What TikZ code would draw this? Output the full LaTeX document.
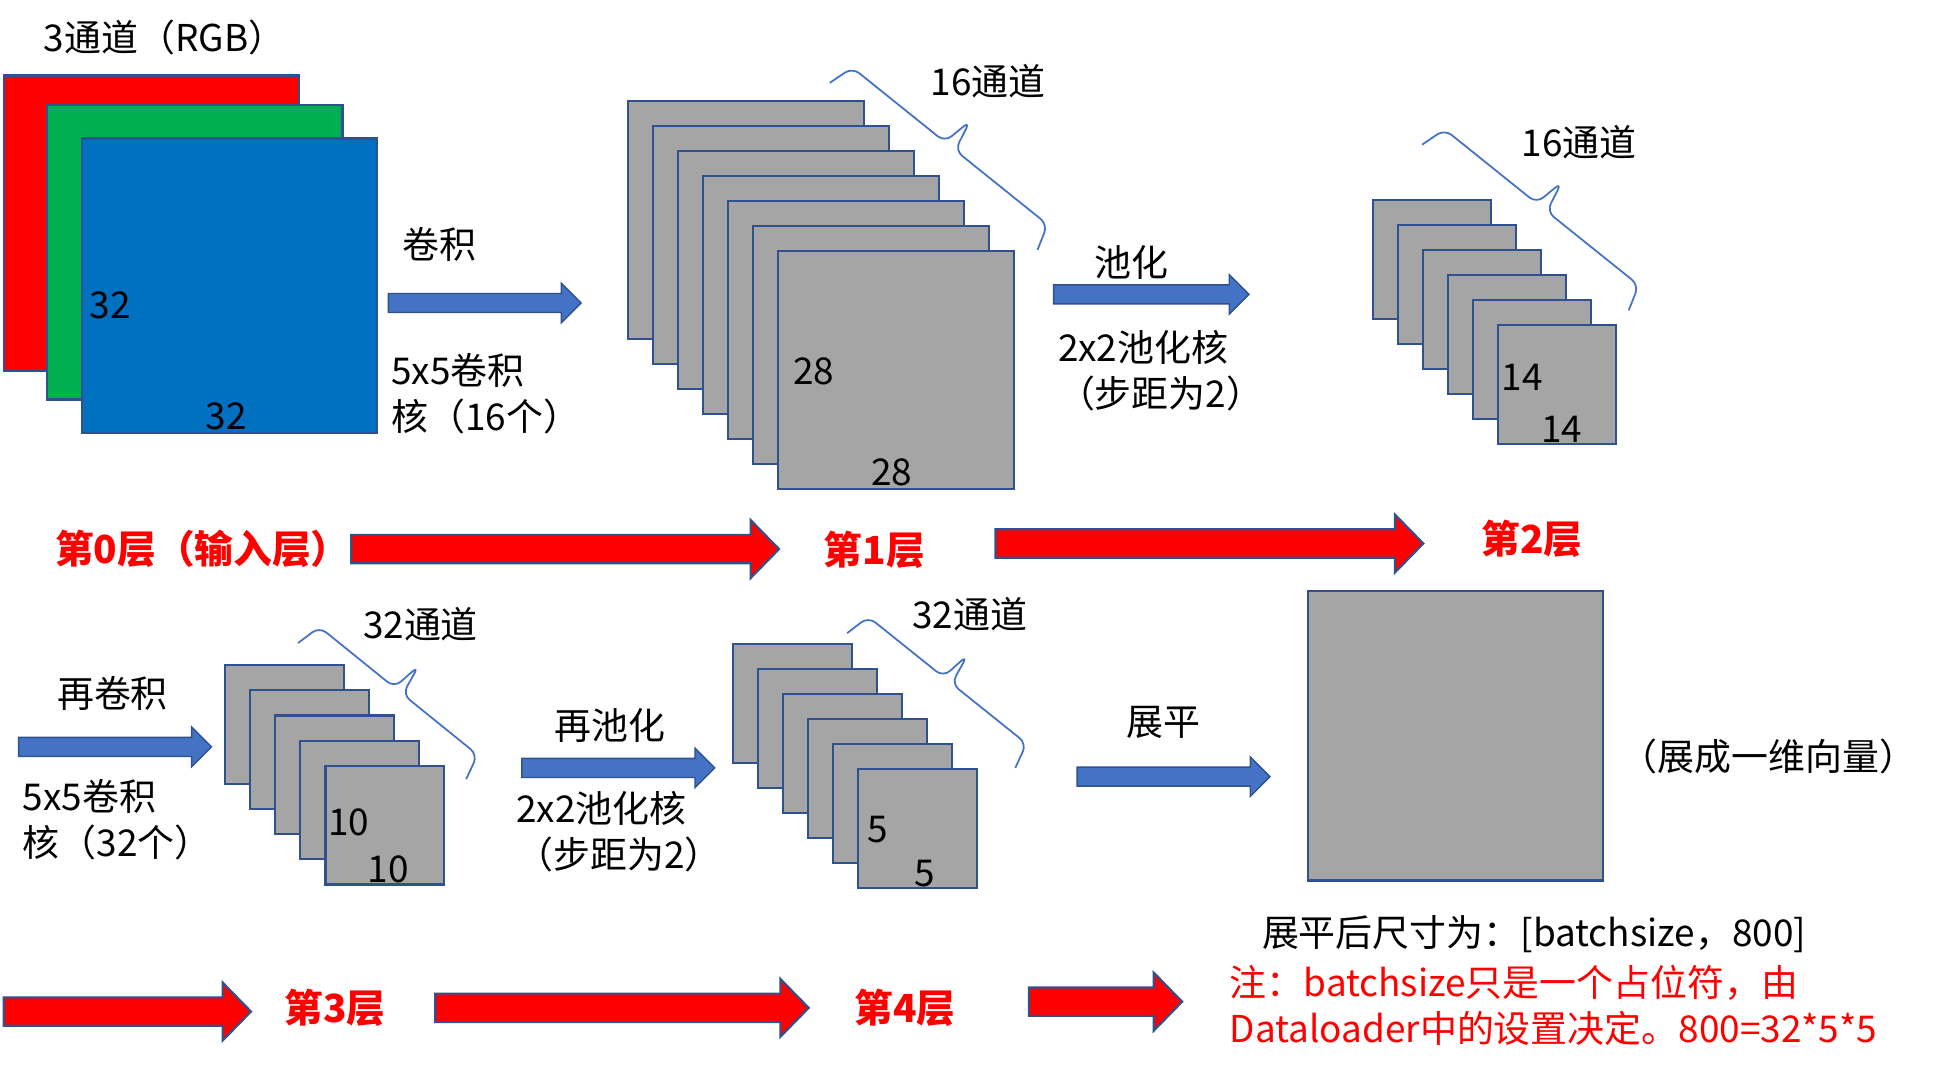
\documentclass[tikz,border=0pt]{standalone}
\usepackage{fontspec}
\setmainfont{Noto Sans CJK SC}
\usetikzlibrary{calc}
\definecolor{edgeblue}{HTML}{2F528F}
\definecolor{arrowblue}{HTML}{4472C4}
\definecolor{mapgray}{HTML}{A5A5A5}
\definecolor{chanblue}{HTML}{0070C0}
\definecolor{changreen}{HTML}{00B050}
\begin{document}
\begin{tikzpicture}[
  x=0.012366cm, y=-0.012366cm,
  every node/.style={font=\fontsize{10.5}{13}\selectfont, inner sep=0pt},
  fmap/.style={draw=edgeblue, line width=0.6pt, fill=mapgray},
  chan/.style={draw=edgeblue, line width=0.6pt},
  convarrow/.style={draw=edgeblue, line width=0.4pt, fill=arrowblue},
  layerarrow/.style={draw=edgeblue, line width=0.6pt, fill=red},
  layerlabel/.style={text=red, font=\fontsize{11}{13}\selectfont\bfseries},
  chbrace/.style={draw=arrowblue, line width=0.5pt, rounded corners=2.5pt},
  notetext/.style={text=red}
]
\useasboundingbox (0,0) rectangle (1568,867);

\draw[chan, fill=red] (3,61) rectangle (242,300);
\draw[chan, fill=changreen] (38,85) rectangle (277,323);
\draw[chan, fill=chanblue] (66,112) rectangle (305,350);

\foreach \i in {0,...,6}
  \draw[fmap] (508+20.2*\i,82+20.2*\i) rectangle ++(191,192);
\foreach \i in {0,...,5}
  \draw[fmap] (1110+20.2*\i,162+20.2*\i) rectangle ++(96,96);
\foreach \i in {0,...,4}
  \draw[fmap] (182+20.3*\i,538+20.3*\i) rectangle ++(96,96);
\foreach \i in {0,...,5}
  \draw[fmap] (593+20.2*\i,521+20.2*\i) rectangle ++(96,96);
\draw[fmap] (1058,478) rectangle (1296,712);

\foreach \xa/\xb/\yc in {314/470/245, 852/1010/238, 15/171/604, 422/578/621, 871/1027/628}
  \draw[convarrow] (\xa,\yc-7.7) -- (\xb-16,\yc-7.7) -- (\xb-16,\yc-16) -- (\xb,\yc)
    -- (\xb-16,\yc+16) -- (\xb-16,\yc+7.7) -- (\xa,\yc+7.7) -- cycle;
\foreach \xa/\xb/\yc in {284/630/444, 805/1151/439.5, 3/203/818, 352/654/815, 832/956/810}
  \draw[layerarrow] (\xa,\yc-11.5) -- (\xb-23,\yc-11.5) -- (\xb-23,\yc-23.5) -- (\xb,\yc)
    -- (\xb-23,\yc+23.5) -- (\xb-23,\yc+11.5) -- (\xa,\yc+11.5) -- cycle;

\coordinate (bra1) at (671,67);
\coordinate (brb1) at (839,202);
\coordinate (bra2) at (1150,117);
\coordinate (brb2) at (1317,251);
\coordinate (bra3) at (241,520);
\coordinate (brb3) at (377,630);
\coordinate (bra4) at (685,512);
\coordinate (brb4) at (821,621);
\foreach \n in {1,...,4}
  \draw[chbrace] (bra\n) -- ($(bra\n)!0.03!(brb\n)!7.4pt!90:(brb\n)$)
    -- ($(bra\n)!0.475!(brb\n)!7.4pt!90:(brb\n)$)
    -- ($(bra\n)!0.5!(brb\n)!16.5pt!90:(brb\n)$)
    -- ($(bra\n)!0.525!(brb\n)!7.4pt!90:(brb\n)$)
    -- ($(bra\n)!0.97!(brb\n)!7.4pt!90:(brb\n)$) -- (brb\n);

\node (rgb) [anchor=west] at (35,30) {3通道（RGB）};
\node (inh) at (89,247) {32};
\node (inw) at (183,337) {32};
\node (conv) at (355,198) {卷积};
\node (convk) [anchor=west, align=left] at (316,318.5) {5x5卷积\\核（16个）};
\node (chsixa) at (799,66) {16通道};
\node (cah) at (658,300) {28};
\node (caw) at (721,382) {28};
\node (pool) at (915,212) {池化};
\node (poolk) [anchor=west, align=left] at (855,299.5) {2x2池化核\\（步距为2）};
\node (chsixb) at (1277,115) {16通道};
\node (cbh) at (1231,305) {14};
\node (cbw) at (1263,347) {14};

\node (lzero) [layerlabel, anchor=west] at (44,444) {第0层（输入层）};
\node (lone) [layerlabel] at (707,445) {第1层};
\node (ltwo) [layerlabel] at (1239,436) {第2层};

\node (convb) at (91,561) {再卷积};
\node (convbk) [anchor=west, align=left] at (18,663) {5x5卷积\\核（32个）};
\node (chtwa) at (340,505) {32通道};
\node (cch) at (282,665) {10};
\node (ccw) at (314,703) {10};
\node (poolb) at (493,587) {再池化};
\node (poolbk) [anchor=west, align=left] at (417,672.5) {2x2池化核\\（步距为2）};
\node (chtwb) at (784,497) {32通道};
\node (cdh) at (710,671) {5};
\node (cdw) at (748,706) {5};
\node (flat) at (941,584) {展平};
\node (vec) at (1430,612) {（展成一维向量）};
\node (fsize) [anchor=west] at (1020,755) {展平后尺寸为：[batchsize，800]};
\node (note) [notetext, anchor=west, align=left] at (994,813)
  {注：batchsize只是一个占位符，由\\Dataloader中的设置决定。800=32*5*5};

\node (lthree) [layerlabel] at (271,815) {第3层};
\node (lfour) [layerlabel] at (732,815) {第4层};
\end{tikzpicture}
\end{document}
